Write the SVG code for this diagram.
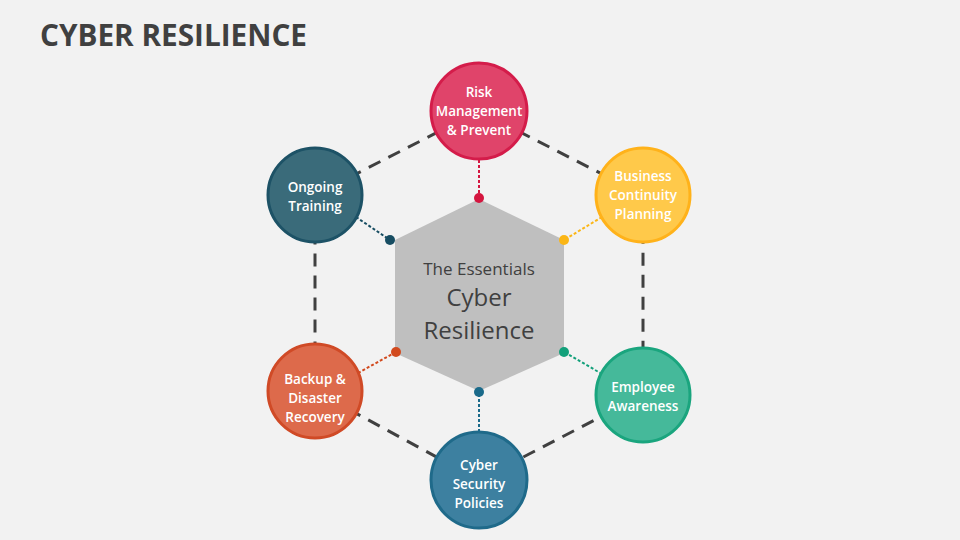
<svg xmlns="http://www.w3.org/2000/svg" width="960" height="540" viewBox="0 0 960 540">
<style>
.bg{fill:#f2f2f2}
.title{font-family:"Open Sans","Liberation Sans",sans-serif;font-weight:bold;font-size:30px;fill:#404040}
.ring{stroke:#404040;stroke-width:3;stroke-dasharray:13 9;fill:none}
.dot{stroke-width:2;stroke-dasharray:3 2;fill:none}
.lbl{font-family:"Open Sans","Liberation Sans",sans-serif;font-size:13.5px;font-weight:600;fill:#ffffff;text-anchor:middle}
.node{stroke-width:3}
.ctr{font-family:"Open Sans","Liberation Sans",sans-serif;fill:#404040;text-anchor:middle}
</style>
<rect class="bg" width="960" height="540"/>
<text class="title" x="40" y="46" textLength="267" lengthAdjust="spacingAndGlyphs">CYBER RESILIENCE</text>

<g id="connectors">
<polygon class="ring" points="479,111 643,195 643,395 479,480 315,391 315,195"/>
<line class="dot" stroke="#d4163f" x1="479" y1="160" x2="479" y2="198"/>
<line class="dot" stroke="#174d62" x1="356" y1="217" x2="390" y2="240"/>
<line class="dot" stroke="#fbb616" x1="602" y1="217" x2="564" y2="240"/>
<line class="dot" stroke="#d24a1e" x1="358" y1="373" x2="396" y2="352"/>
<line class="dot" stroke="#12a07a" x1="602" y1="374" x2="564" y2="352"/>
<line class="dot" stroke="#1a6a8a" x1="479" y1="432" x2="479" y2="392"/>
</g>

<g id="center">
<polygon points="479,199 564,240 564,353 479,391 395,353 395,240" fill="#bfbfbf"/>
<text class="ctr" x="479" y="275" font-size="17">The Essentials</text>
<text class="ctr" x="479" y="306" font-size="24">Cyber</text>
<text class="ctr" x="479" y="339" font-size="24">Resilience</text>
<circle cx="479" cy="198" r="5" fill="#d4163f"/>
<circle cx="390" cy="240" r="5" fill="#174d62"/>
<circle cx="564" cy="240" r="5" fill="#fbb616"/>
<circle cx="396" cy="352" r="5" fill="#d24a1e"/>
<circle cx="564" cy="352" r="5" fill="#12a07a"/>
<circle cx="479" cy="392" r="5" fill="#1a6a8a"/>
</g>

<g id="risk">
<circle class="node" cx="479" cy="111" r="48" fill="#e0446a" stroke="#d41c4a"/>
<text class="lbl" x="479" y="97">Risk</text>
<text class="lbl" x="479" y="116">Management</text>
<text class="lbl" x="479" y="135">&amp; Prevent</text>
</g>

<g id="training">
<circle class="node" cx="315" cy="195" r="47" fill="#3a6b7a" stroke="#1d5266"/>
<text class="lbl" x="315" y="192">Ongoing</text>
<text class="lbl" x="315" y="211">Training</text>
</g>

<g id="business">
<circle class="node" cx="643" cy="195" r="47" fill="#ffc94a" stroke="#ffb21a"/>
<text class="lbl" x="643" y="181">Business</text>
<text class="lbl" x="643" y="200">Continuity</text>
<text class="lbl" x="643" y="219">Planning</text>
</g>

<g id="backup">
<circle class="node" cx="315" cy="391" r="47" fill="#dd6a4b" stroke="#d04a26"/>
<text class="lbl" x="315" y="384">Backup &amp;</text>
<text class="lbl" x="315" y="403">Disaster</text>
<text class="lbl" x="315" y="422">Recovery</text>
</g>

<g id="employee">
<circle class="node" cx="643" cy="395" r="47" fill="#45b99a" stroke="#1aa57e"/>
<text class="lbl" x="643" y="392">Employee</text>
<text class="lbl" x="643" y="411">Awareness</text>
</g>

<g id="policies">
<circle class="node" cx="479" cy="480" r="48" fill="#3d80a0" stroke="#1f6a8a"/>
<text class="lbl" x="479" y="470">Cyber</text>
<text class="lbl" x="479" y="489">Security</text>
<text class="lbl" x="479" y="508">Policies</text>
</g>
</svg>
